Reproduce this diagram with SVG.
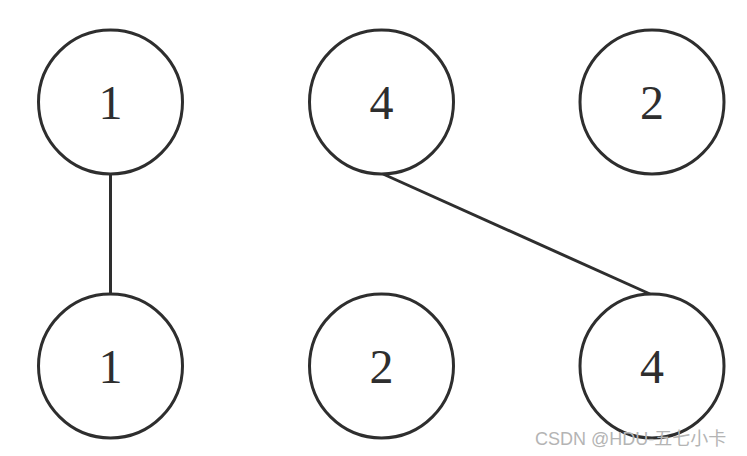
<svg xmlns="http://www.w3.org/2000/svg" width="747" height="456" viewBox="0 0 747 456">
<style>
.n{fill:#fff;stroke:#2e2e2e;stroke-width:3}
.t{font-family:"Liberation Serif",serif;font-size:48px;fill:#2e2e2e;text-anchor:middle}
.e{stroke:#2e2e2e;stroke-width:3;fill:none}
.w{font-family:"Liberation Sans","Noto Sans CJK SC",sans-serif;font-size:18px;fill:#b4b4b4}
</style>
<rect width="747" height="456" fill="#fff"/>
<g id="edges">
<line class="e" x1="110.5" y1="174" x2="110.5" y2="294"/>
<line class="e" x1="383" y1="174" x2="650" y2="294"/>
</g>
<g id="a1"><circle class="n" cx="110.5" cy="102" r="72"/><text class="t" x="110.5" y="119">1</text></g>
<g id="a4"><circle class="n" cx="381.5" cy="102" r="72"/><text class="t" x="381.5" y="119">4</text></g>
<g id="a2"><circle class="n" cx="652" cy="102" r="72"/><text class="t" x="652" y="119">2</text></g>
<g id="b1"><circle class="n" cx="110.5" cy="366" r="72"/><text class="t" x="110.5" y="383">1</text></g>
<g id="b2"><circle class="n" cx="381.5" cy="366" r="72"/><text class="t" x="381.5" y="383">2</text></g>
<g id="b4"><circle class="n" cx="652" cy="366" r="72"/><text class="t" x="652" y="383">4</text></g>
<text class="w" x="535" y="445">CSDN @HDU-五七小卡</text>
</svg>
